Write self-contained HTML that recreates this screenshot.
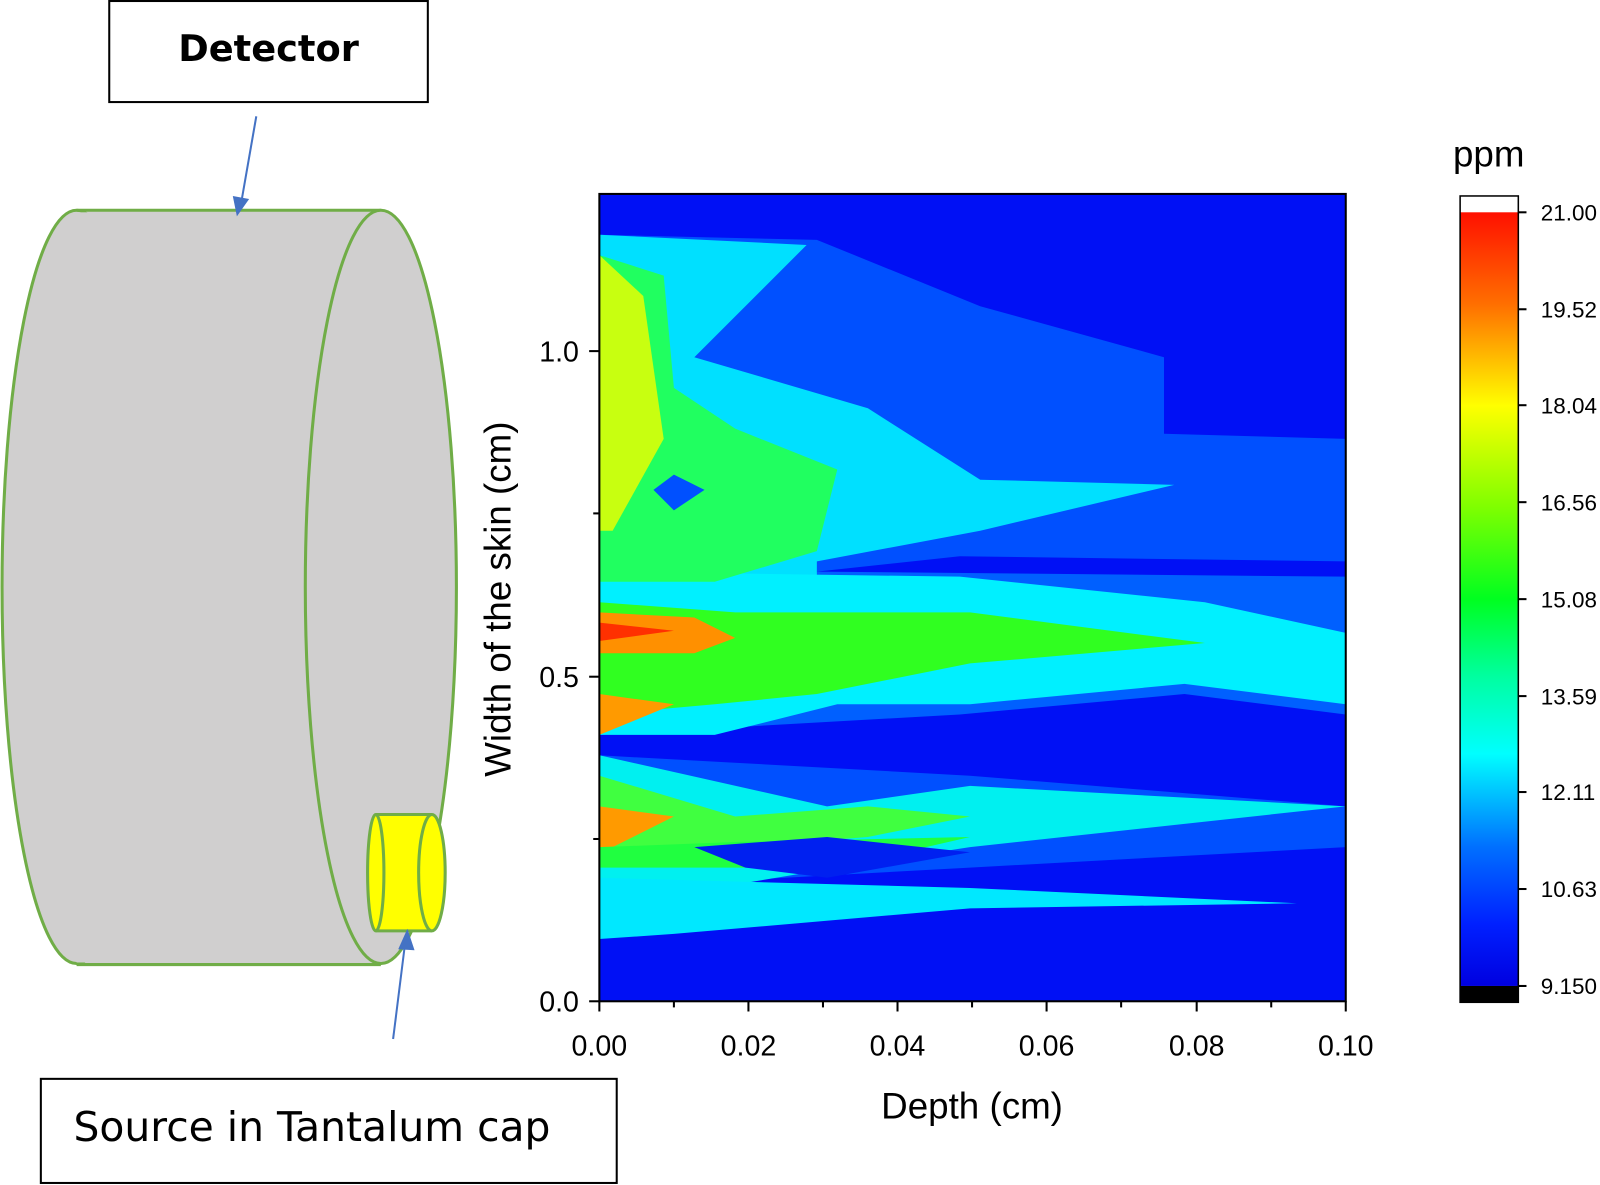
<!DOCTYPE html>
<html><head><meta charset="utf-8"><style>
body{margin:0;background:#fff;width:1600px;height:1185px;overflow:hidden;font-family:"Liberation Sans",sans-serif}
svg{display:block}
</style></head><body>
<svg width="1600" height="1185" viewBox="0 0 1567 1161" preserveAspectRatio="none" xmlns="http://www.w3.org/2000/svg">
<defs>
<linearGradient id="cb" x1="0" y1="0" x2="0" y2="1">
<stop offset="0" stop-color="#ff1000"/>
<stop offset="0.12" stop-color="#ff7000"/>
<stop offset="0.25" stop-color="#ffff00"/>
<stop offset="0.38" stop-color="#80ff00"/>
<stop offset="0.5" stop-color="#00ff20"/>
<stop offset="0.6" stop-color="#00ffa0"/>
<stop offset="0.7" stop-color="#00ffff"/>
<stop offset="0.82" stop-color="#0070ff"/>
<stop offset="0.92" stop-color="#0020ff"/>
<stop offset="1" stop-color="#0000e0"/>
</linearGradient>
<clipPath id="pc"><rect x="587" y="190" width="731" height="791"/></clipPath>
</defs>
<rect x="75" y="206" width="298" height="739" fill="#d0cfcf"/>
<ellipse cx="75" cy="575" rx="73" ry="369" fill="#d0cfcf" stroke="#70ad47" stroke-width="3"/>
<rect x="75" y="208" width="298" height="735" fill="#d0cfcf"/>
<line x1="75" y1="206" x2="373" y2="206" stroke="#70ad47" stroke-width="3"/>
<line x1="75" y1="945" x2="373" y2="945" stroke="#70ad47" stroke-width="3"/>
<ellipse cx="373" cy="575" rx="74" ry="369" fill="#d0cfcf" stroke="#70ad47" stroke-width="3"/>
<rect x="368" y="798" width="55" height="115" fill="#ffff00"/>
<ellipse cx="368" cy="855" rx="8" ry="57" fill="#ffff00" stroke="#70ad47" stroke-width="3"/>
<line x1="368" y1="798" x2="423" y2="798" stroke="#70ad47" stroke-width="3"/>
<line x1="368" y1="912" x2="423" y2="912" stroke="#70ad47" stroke-width="3"/>
<ellipse cx="423" cy="855" rx="13" ry="57" fill="#ffff00" stroke="#70ad47" stroke-width="3"/>
<line x1="251" y1="114" x2="236" y2="200" stroke="#4472c4" stroke-width="2"/>
<polygon points="232,212 228,192 244,195" fill="#4472c4"/>
<line x1="385" y1="1018" x2="397" y2="922" stroke="#4472c4" stroke-width="2"/>
<polygon points="399,910 390,930 406,931" fill="#4472c4"/>
<rect x="107" y="1" width="312" height="99" fill="#fff" stroke="#000" stroke-width="2"/>
<text x="263" y="60" text-anchor="middle" font-size="36" font-weight="bold" font-family="DejaVu Sans,sans-serif">Detector</text>
<rect x="40" y="1057" width="564" height="102" fill="#fff" stroke="#000" stroke-width="2"/>
<text x="72" y="1118" font-size="40" font-family="DejaVu Sans,sans-serif">Source in Tantalum cap</text>
<g clip-path="url(#pc)">
<rect x="587" y="190" width="731" height="791" fill="#0010f5"/>
<polygon points="587,230 800,235 960,300 1140,350 1140,425 1318,430 1318,550 940,545 800,560 587,560" fill="#0050ff"/>
<polygon points="800,560 1318,565 1318,700 1160,680 940,700 587,720" fill="#0060ff"/>
<polygon points="587,740 950,760 1318,790 1318,830 950,850 587,870" fill="#0050ff"/>
<polygon points="587,230 790,240 680,350 850,400 960,470 1150,475 960,520 800,550 800,570 587,580" fill="#00e0ff"/>
<polygon points="587,560 940,565 1180,590 1318,620 1318,690 1160,670 950,690 820,690 700,720 587,720" fill="#00f0ff"/>
<polygon points="587,740 810,790 950,770 1318,790 950,830 820,850 700,870 587,900" fill="#00f0f0"/>
<polygon points="587,860 950,870 1270,885 950,890 660,915 587,920" fill="#00e8ff"/>
<polygon points="587,250 650,270 660,380 720,420 820,460 800,540 700,570 587,570" fill="#20ff60"/>
<polygon points="587,590 720,600 950,600 1180,630 950,650 800,680 700,690 587,700" fill="#30ff20"/>
<polygon points="587,760 720,800 850,790 950,800 850,820 720,830 587,850" fill="#40ff40"/>
<polygon points="587,250 630,290 650,430 600,520 587,520" fill="#c8ff10"/>
<polygon points="587,600 680,605 720,625 680,640 587,640" fill="#ff9000"/>
<polygon points="587,610 660,618 587,628" fill="#ff3000"/>
<polygon points="587,680 660,690 587,720" fill="#ff9a00"/>
<polygon points="587,790 660,800 600,830 587,830" fill="#ff9a00"/>
<polygon points="587,830 720,825 950,820 820,850 587,850" fill="#20ff40"/>
<polygon points="640,480 660,465 690,480 660,500" fill="#0050ff"/>
<polygon points="680,830 810,820 950,835 810,860 730,850" fill="#0020f0"/>
</g>
<rect x="587" y="190" width="731" height="791" fill="none" stroke="#000" stroke-width="2"/>
<g stroke="#000" stroke-width="2">
<line x1="587" y1="981" x2="587" y2="991"/><line x1="733" y1="981" x2="733" y2="991"/><line x1="879" y1="981" x2="879" y2="991"/><line x1="1025" y1="981" x2="1025" y2="991"/><line x1="1172" y1="981" x2="1172" y2="991"/><line x1="1318" y1="981" x2="1318" y2="991"/>
<line x1="660" y1="981" x2="660" y2="987"/><line x1="806" y1="981" x2="806" y2="987"/><line x1="952" y1="981" x2="952" y2="987"/><line x1="1098" y1="981" x2="1098" y2="987"/><line x1="1245" y1="981" x2="1245" y2="987"/>
<line x1="577" y1="981" x2="587" y2="981"/><line x1="577" y1="663" x2="587" y2="663"/><line x1="577" y1="344" x2="587" y2="344"/>
<line x1="581" y1="822" x2="587" y2="822"/><line x1="581" y1="503" x2="587" y2="503"/>
</g>
<g font-size="28" text-anchor="middle">
<text x="587" y="1034">0.00</text><text x="733" y="1034">0.02</text><text x="879" y="1034">0.04</text><text x="1025" y="1034">0.06</text><text x="1172" y="1034">0.08</text><text x="1318" y="1034">0.10</text>
</g>
<g font-size="28" text-anchor="end">
<text x="567" y="991">0.0</text><text x="567" y="673">0.5</text><text x="567" y="354">1.0</text>
</g>
<text x="952" y="1096" font-size="36" text-anchor="middle">Depth (cm)</text>
<text transform="translate(500,587) rotate(-90)" font-size="36" text-anchor="middle">Width of the skin (cm)</text>
<text x="1458" y="163" font-size="36" text-anchor="middle">ppm</text>
<rect x="1430" y="192" width="57" height="16" fill="#fff"/>
<rect x="1430" y="208" width="57" height="758" fill="url(#cb)"/>
<rect x="1430" y="966" width="57" height="16" fill="#000"/>
<rect x="1430" y="192" width="57" height="790" fill="none" stroke="#000" stroke-width="1.5"/>
<g stroke="#000" stroke-width="2">
<line x1="1487" y1="208" x2="1495" y2="208"/><line x1="1487" y1="303" x2="1495" y2="303"/><line x1="1487" y1="397" x2="1495" y2="397"/><line x1="1487" y1="492" x2="1495" y2="492"/><line x1="1487" y1="587" x2="1495" y2="587"/><line x1="1487" y1="682" x2="1495" y2="682"/><line x1="1487" y1="776" x2="1495" y2="776"/><line x1="1487" y1="871" x2="1495" y2="871"/><line x1="1487" y1="966" x2="1495" y2="966"/>
</g>
<g font-size="22">
<text x="1509" y="216">21.00</text><text x="1509" y="311">19.52</text><text x="1509" y="405">18.04</text><text x="1509" y="500">16.56</text><text x="1509" y="595">15.08</text><text x="1509" y="690">13.59</text><text x="1509" y="784">12.11</text><text x="1509" y="879">10.63</text><text x="1509" y="974">9.150</text>
</g>
</svg>
</body></html>
